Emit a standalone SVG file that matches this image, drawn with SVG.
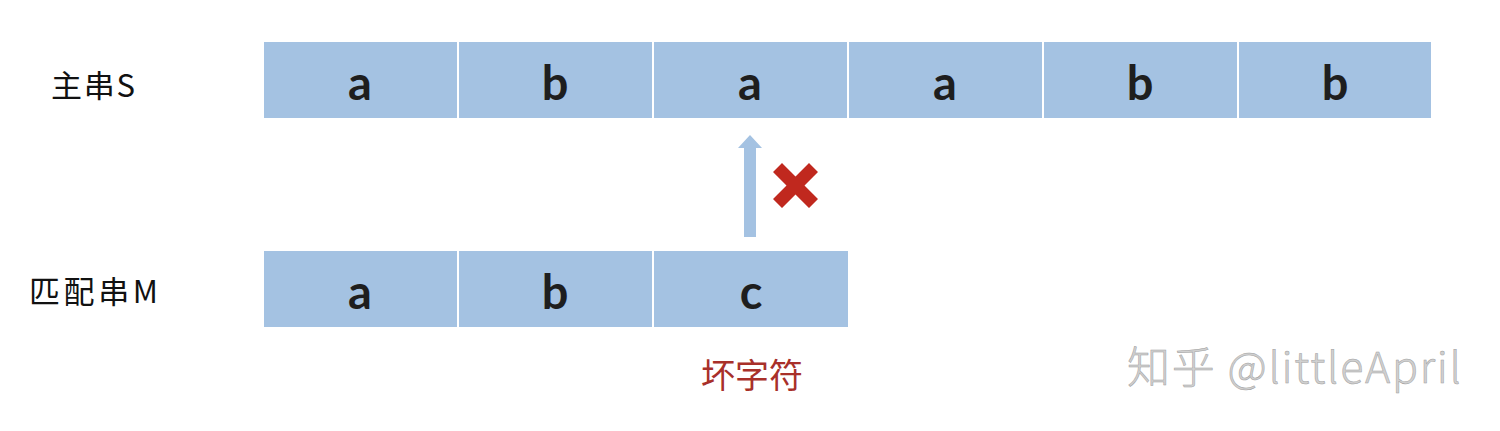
<svg xmlns="http://www.w3.org/2000/svg" width="1500" height="431" viewBox="0 0 1500 431">
<style>
.cell{fill:#a4c2e2}
.ch{font-family:Lato,"Open Sans",sans-serif;font-weight:bold;font-size:47px;fill:#1e1e1e;text-anchor:middle}
.lbl{font-family:"Noto Sans CJK SC",sans-serif;fill:#111}
</style>
<rect width="1500" height="431" fill="#ffffff"/>
<g id="label-S"><text class="lbl" x="51" y="97" font-size="31" textLength="84" lengthAdjust="spacing">主串S</text></g>
<g id="label-M"><text class="lbl" x="29" y="303" font-size="31" textLength="129" lengthAdjust="spacing">匹配串M</text></g>
<g id="main-string">
<g id="s0"><rect class="cell" x="264" y="42" width="193" height="76"/><text class="ch" x="360" y="100">a</text></g>
<g id="s1"><rect class="cell" x="459" y="42" width="193" height="76"/><text class="ch" x="555" y="100">b</text></g>
<g id="s2"><rect class="cell" x="654" y="42" width="193" height="76"/><text class="ch" x="750" y="100">a</text></g>
<g id="s3"><rect class="cell" x="849" y="42" width="193" height="76"/><text class="ch" x="945" y="100">a</text></g>
<g id="s4"><rect class="cell" x="1044" y="42" width="193" height="76"/><text class="ch" x="1140" y="100">b</text></g>
<g id="s5"><rect class="cell" x="1239" y="42" width="192" height="76"/><text class="ch" x="1335" y="100">b</text></g>
</g>
<g id="pattern-string">
<g id="m0"><rect class="cell" x="264" y="251" width="193" height="76"/><text class="ch" x="360" y="309">a</text></g>
<g id="m1"><rect class="cell" x="459" y="251" width="193" height="76"/><text class="ch" x="555" y="309">b</text></g>
<g id="m2"><rect class="cell" x="654" y="251" width="194" height="76"/><text class="ch" x="751" y="309">c</text></g>
</g>
<g id="connectors">
<path d="M744 237 L744 148 L738 148 L750 135 L762 148 L756 148 L756 237 Z" fill="#a4c2e2"/>
</g>
<g id="mismatch">
<path d="M773 172 L782 163 L795.5 176.5 L809 163 L818 172 L804.5 185.5 L818 199 L809 208 L795.5 194.5 L782 208 L773 199 L786.5 185.5 Z" fill="#c0281e"/>
</g>
<g id="bad-char"><text x="752" y="388" font-family="'Noto Sans CJK SC',sans-serif" font-size="34" fill="#a8302a" text-anchor="middle">坏字符</text></g>
<g id="watermark"><text x="1127" y="383" font-family="'Noto Sans CJK SC',sans-serif" font-size="43" font-weight="300" fill="#d0d0d0" stroke="#a0a0a0" stroke-width="0.5" textLength="334" lengthAdjust="spacing">知乎 @littleApril</text></g>
</svg>
